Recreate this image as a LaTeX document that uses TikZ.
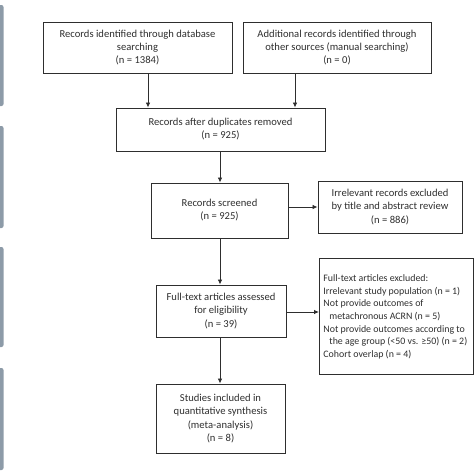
\documentclass[tikz,border=0pt]{standalone}
\usepackage{fontspec}
\setmainfont{Carlito}
\usetikzlibrary{arrows.meta}
\definecolor{ink}{HTML}{2E2E2E}
\definecolor{bar}{HTML}{8D9BA8}
\tikzset{
  box/.style={draw=ink, line width=0.9pt, text=ink, align=center, inner sep=0pt,
    font=\fontsize{10.6}{13.1}\selectfont},
  conn/.style={draw=ink, line width=0.8pt, -{Latex[length=5pt,width=4.5pt]}},
  phasebar/.style={fill=bar, draw=none, rounded corners=2pt}
}
\begin{document}
\begin{tikzpicture}[x=1pt,y=-1pt]
\useasboundingbox (0,0) rectangle (474,474);
\clip (0,0) rectangle (474,474);
% phase bars
\fill[phasebar] (-20,5) rectangle (3.5,106);
\fill[phasebar] (-20,126) rectangle (3.5,228);
\fill[phasebar] (-20,247) rectangle (3.5,347);
\fill[phasebar] (-20,368) rectangle (3.5,470);
% boxes
\node[box, minimum width=189pt, minimum height=51pt] (b1) at (137.5,47.5)
  {Records identified through database\\searching\\(n = 1384)};
\node[box, minimum width=188pt, minimum height=51pt] (b2) at (337,47.5)
  {Additional records identified through\\other sources (manual searching)\\(n = 0)};
\node[box, minimum width=209pt, minimum height=43pt] (b3) at (220.5,129.5)
  {Records after duplicates removed\\(n = 925)};
\node[box, minimum width=137pt, minimum height=55pt] (b4) at (219.5,210.5)
  {Records screened\\(n = 925)};
\node[box, minimum width=144pt, minimum height=52pt] (b5) at (390,207)
  {Irrelevant records excluded\\by title and abstract review\\(n = 886)};
\node[box, minimum width=130pt, minimum height=52pt] (b6) at (221,311)
  {Full-text articles assessed\\for eligibility\\(n = 39)};
\draw[draw=ink, line width=0.9pt] (319,258) rectangle (473,374);
\node[box, draw=none, anchor=north west, align=left, font=\fontsize{9.9}{12.7}\selectfont] (b7) at (323,274)
  {Full-text articles excluded:\\
   Irrelevant study population (n = 1)\\
   Not provide outcomes of\\
   \hspace*{6pt}metachronous ACRN (n = 5)\\
   Not provide outcomes according to\\
   \hspace*{6pt}the age group (<50 vs. ≥50) (n = 2)\\
   Cohort overlap (n = 4)};
\coordinate (b7w) at (319,312);
\node[box, minimum width=129pt, minimum height=69pt] (b8) at (220.5,418.5)
  {Studies included in\\quantitative synthesis\\(meta-analysis)\\(n = 8)};
% connectors
\draw[conn] (b1.south -| 148,0) -- (b3.north -| 148,0);
\draw[conn] (b2.south -| 295,0) -- (b3.north -| 295,0);
\draw[conn] (b3.south -| 220,0) -- (b4.north -| 220,0);
\draw[conn] (b4.east |- 0,207) -- (b5.west |- 0,207);
\draw[conn] (b4.south -| 220,0) -- (b6.north -| 220,0);
\draw[conn] (b6.east |- 0,312) -- (b7w);
\draw[conn] (b6.south -| 220,0) -- (b8.north -| 220,0);
\end{tikzpicture}
\end{document}
